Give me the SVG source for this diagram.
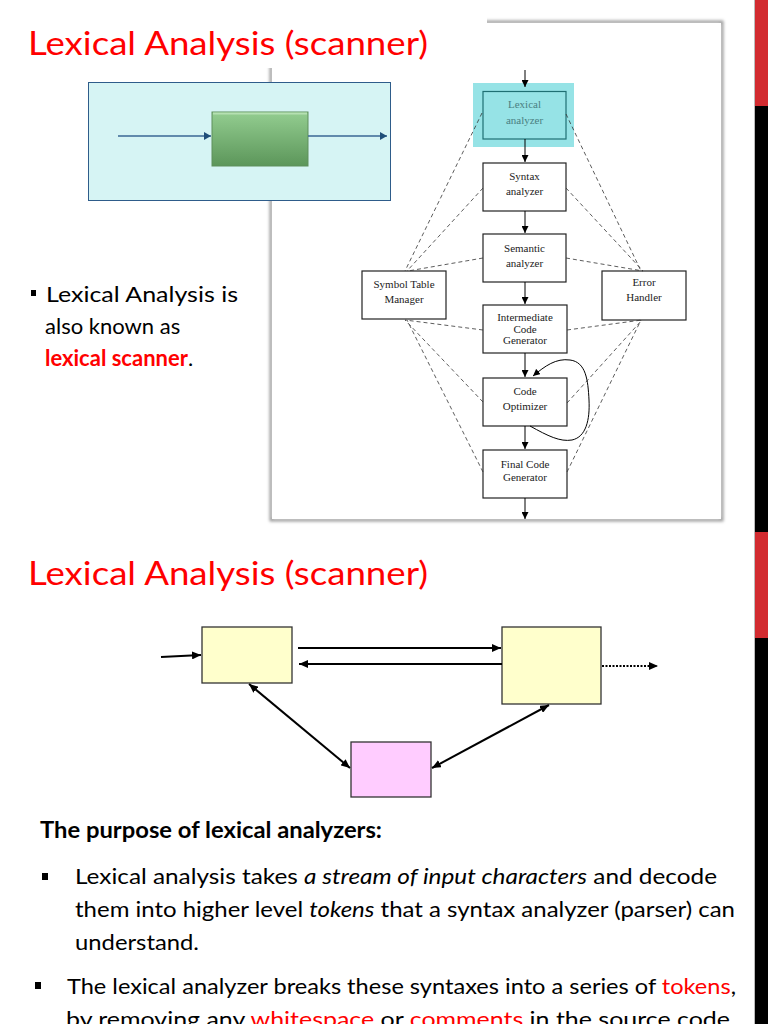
<svg xmlns="http://www.w3.org/2000/svg" width="768" height="1024" viewBox="0 0 768 1024">
<style>
.title{font-family:Lato,"Liberation Sans",sans-serif;font-size:32px;fill:#ff0000}
.body{font-family:Lato,"Liberation Sans",sans-serif;font-size:22px;fill:#000}
.serif{font-family:"Liberation Serif","DejaVu Serif",serif;font-size:11px;fill:#222;text-anchor:middle}
.pbox{fill:#fff;stroke:#222;stroke-width:1.2}
.dash{fill:none;stroke:#333;stroke-width:0.8;stroke-dasharray:4 3}
.flow{fill:none;stroke:#000;stroke-width:1}
.big{fill:none;stroke:#000;stroke-width:2}
.red{fill:#ff0000}
</style>
<defs>
<marker id="ah" markerUnits="userSpaceOnUse" markerWidth="8" markerHeight="7" refX="7" refY="3.5" orient="auto"><path d="M0,0 L7,3.5 L0,7 z" fill="#000"/></marker>
<marker id="ahBlue" markerUnits="userSpaceOnUse" markerWidth="8" markerHeight="8" refX="7" refY="4" orient="auto"><path d="M0,0 L7,4 L0,8 z" fill="#1f4e79"/></marker>
<marker id="ahBig" markerUnits="userSpaceOnUse" markerWidth="10" markerHeight="8" refX="9" refY="4" orient="auto-start-reverse"><path d="M0,0 L9,4 L0,8 z" fill="#000"/></marker>
<linearGradient id="green" x1="0" y1="0" x2="0" y2="1"><stop offset="0" stop-color="#93cd90"/><stop offset="1" stop-color="#5c965a"/></linearGradient>
<filter id="shadow" x="-5%" y="-5%" width="110%" height="110%"><feGaussianBlur stdDeviation="1.5"/></filter>
</defs>
<rect width="768" height="1024" fill="#fff"/>
<!-- right bar -->
<rect x="755" y="0" width="13" height="1024" fill="#000"/>
<rect x="755" y="0" width="13" height="106" fill="#d22b30"/>
<rect x="755" y="532" width="13" height="106" fill="#d22b30"/>
<line x1="754.5" y1="0" x2="754.5" y2="1024" stroke="#bbb" stroke-width="1"/>
<!-- picture panel -->
<rect x="271" y="22" width="451" height="498" fill="none" stroke="#999" stroke-width="3" filter="url(#shadow)"/>
<rect x="272" y="23" width="449" height="496" fill="#fff"/>
<rect x="0" y="0" width="487" height="68" fill="#fff"/>
<text class="title" x="28" y="55" textLength="400" lengthAdjust="spacingAndGlyphs">Lexical Analysis (scanner)</text>
<!-- blue box diagram -->
<g id="scannerBox">
<rect x="88.5" y="82.5" width="302" height="118" fill="#d6f4f4" stroke="#2e5c8a" stroke-width="1"/>
</g>
<g id="greenBox">
<rect x="212" y="112" width="96" height="54" fill="url(#green)" stroke="#5f8f5c" stroke-width="1"/>
<rect x="213" y="112.5" width="94" height="2" fill="#b5e0b2"/>
</g>
<g id="blueArrows">
<line x1="118" y1="136" x2="211" y2="136" stroke="#3a6794" stroke-width="1.6" marker-end="url(#ahBlue)"/>
<line x1="308" y1="136" x2="387" y2="136" stroke="#3a6794" stroke-width="1.6" marker-end="url(#ahBlue)"/>
</g>
<!-- bullet text -->
<rect x="31" y="290" width="5" height="6" fill="#000"/>
<text class="body" x="46" y="302" textLength="192" lengthAdjust="spacingAndGlyphs">Lexical Analysis is</text>
<text class="body" x="45" y="334">also known as</text>
<text class="body" x="45" y="366"><tspan class="red" font-weight="bold">lexical scanner</tspan>.</text>
<!-- compiler phases -->
<g id="lexical">
<rect x="473" y="83" width="101" height="64" fill="#96e3e6"/>
<rect x="483" y="91.5" width="83" height="47.5" fill="none" stroke="#1f6f73" stroke-width="1.2"/>
<text class="serif" x="524.5" y="108" style="fill:#4a7f82">Lexical</text>
<text class="serif" x="524.5" y="124" style="fill:#4a7f82">analyzer</text>
</g>
<g id="syntax">
<rect class="pbox" x="483" y="163" width="83" height="48"/>
<text class="serif" x="524.5" y="180">Syntax</text>
<text class="serif" x="524.5" y="195">analyzer</text>
</g>
<g id="semantic">
<rect class="pbox" x="483" y="234" width="83" height="48"/>
<text class="serif" x="524.5" y="252">Semantic</text>
<text class="serif" x="524.5" y="267">analyzer</text>
</g>
<g id="symbol">
<rect class="pbox" x="362" y="271" width="84" height="48"/>
<text class="serif" x="404" y="288">Symbol Table</text>
<text class="serif" x="404" y="303">Manager</text>
</g>
<g id="error">
<rect class="pbox" x="602" y="271" width="84" height="49"/>
<text class="serif" x="644" y="286">Error</text>
<text class="serif" x="644" y="301">Handler</text>
</g>
<g id="intermediate">
<rect class="pbox" x="483" y="305" width="84" height="48"/>
<text class="serif" x="525" y="321">Intermediate</text>
<text class="serif" x="525" y="333">Code</text>
<text class="serif" x="525" y="344">Generator</text>
</g>
<g id="optimizer">
<rect class="pbox" x="483" y="378" width="84" height="48"/>
<text class="serif" x="525" y="395">Code</text>
<text class="serif" x="525" y="410">Optimizer</text>
</g>
<g id="final">
<rect class="pbox" x="483" y="450" width="84" height="48"/>
<text class="serif" x="525" y="468">Final Code</text>
<text class="serif" x="525" y="481">Generator</text>
</g>
<g id="connectors">
<line class="flow" x1="525" y1="70" x2="525" y2="87" marker-end="url(#ah)"/>
<line class="flow" x1="525" y1="139" x2="525" y2="162" marker-end="url(#ah)"/>
<line class="flow" x1="525" y1="211" x2="525" y2="233" marker-end="url(#ah)"/>
<line class="flow" x1="525" y1="282" x2="525" y2="304" marker-end="url(#ah)"/>
<line class="flow" x1="525" y1="353" x2="525" y2="377" marker-end="url(#ah)"/>
<line class="flow" x1="525" y1="426" x2="525" y2="449" marker-end="url(#ah)"/>
<line class="flow" x1="525" y1="498" x2="525" y2="519" marker-end="url(#ah)"/>
<path class="flow" d="M530,426 C548,436 560,442 572,440 C586,437 590,420 589,400 C588,380 586,362 570,360 C556,358 545,366 533,376" marker-end="url(#ah)"/>
<path class="dash" d="M482,113 L405,271 M483,188 L407,271 M483,258 L408,271 M483,330 L405,320 M483,402 L405,320 M483,472 L407,320"/>
<path class="dash" d="M566,114 L641,271 M566,188 L643,271 M566,258 L643,271 M567,330 L642,320 M567,403 L642,320 M567,472 L641,320"/>
</g>
<!-- second slide -->
<text class="title" x="28" y="585" textLength="400" lengthAdjust="spacingAndGlyphs">Lexical Analysis (scanner)</text>
<g id="boxA"><rect x="202" y="627" width="90" height="56" fill="#ffffcc" stroke="#333" stroke-width="1.3"/></g>
<g id="boxB"><rect x="502" y="627" width="99" height="77" fill="#ffffcc" stroke="#333" stroke-width="1.3"/></g>
<g id="boxC"><rect x="351" y="742" width="80" height="55" fill="#ffccff" stroke="#333" stroke-width="1.3"/></g>
<g id="connectors2">
<line class="big" x1="161" y1="657" x2="201" y2="655" marker-end="url(#ahBig)"/>
<line class="big" x1="298" y1="648" x2="501" y2="648" marker-end="url(#ahBig)"/>
<line class="big" x1="502" y1="664" x2="299" y2="664" marker-end="url(#ahBig)"/>
<line x1="602" y1="666" x2="658" y2="666" stroke="#000" stroke-width="2" stroke-dasharray="2 1.5" marker-end="url(#ahBig)"/>
<line class="big" x1="249" y1="684" x2="350" y2="768" marker-start="url(#ahBig)" marker-end="url(#ahBig)"/>
<line class="big" x1="549" y1="705" x2="432" y2="768" marker-start="url(#ahBig)" marker-end="url(#ahBig)"/>
</g>
<text class="body" x="40" y="838" font-weight="bold" font-size="20" textLength="342" lengthAdjust="spacingAndGlyphs">The purpose of lexical analyzers:</text>
<rect x="42" y="873" width="6" height="7" fill="#000"/>
<text class="body" x="75" y="884" textLength="642" lengthAdjust="spacingAndGlyphs">Lexical analysis takes <tspan font-style="italic">a stream of input characters</tspan> and decode</text>
<text class="body" x="75" y="917" textLength="660" lengthAdjust="spacingAndGlyphs">them into higher level <tspan font-style="italic">tokens</tspan> that a syntax analyzer (parser) can</text>
<text class="body" x="75" y="950" textLength="124" lengthAdjust="spacingAndGlyphs">understand.</text>
<rect x="35" y="982" width="6" height="7" fill="#000"/>
<text class="body" x="67" y="994" textLength="669" lengthAdjust="spacingAndGlyphs">The lexical analyzer breaks these syntaxes into a series of <tspan class="red">tokens</tspan>,</text>
<text class="body" x="66" y="1027" textLength="664" lengthAdjust="spacingAndGlyphs">by removing any <tspan class="red">whitespace</tspan> or <tspan class="red">comments</tspan> in the source code</text>
</svg>
